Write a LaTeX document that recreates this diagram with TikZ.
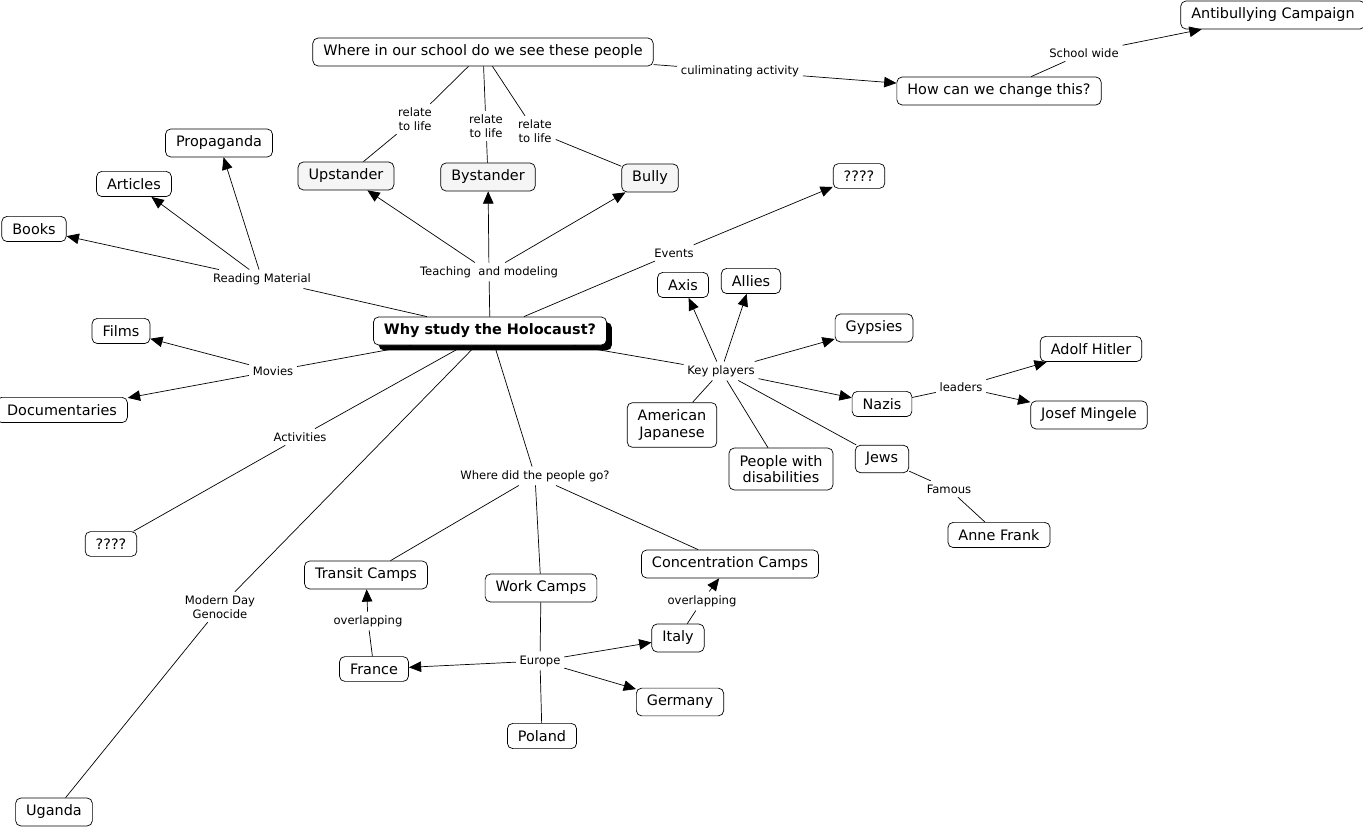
\documentclass[tikz,border=0pt]{standalone}
\usepackage{fontspec}
\setmainfont{DejaVu Sans}
\usetikzlibrary{arrows.meta,shadows}
\begin{document}
\begin{tikzpicture}[%
      x=0.02cm, y=-0.02cm,
      concept/.style={draw, rounded corners=3pt, font=\fontsize{8.2}{9.5}\selectfont, inner xsep=6pt, inner ysep=4pt, fill=white, align=center},
      person/.style={concept, fill=gray!8},
      link/.style={font=\fontsize{6.6}{7.8}\selectfont, inner sep=2pt, align=center},
      arr/.style={-{Triangle[length=7pt,width=6pt]}},
      ]
      \useasboundingbox (0,0) rectangle (1363,830);

      \node[concept, font=\bfseries\fontsize{8.2}{9.5}\selectfont, drop shadow={shadow xshift=3pt,shadow yshift=-3pt,fill=black,opacity=1}] (main) at (490,331) {Why study the Holocaust?};
      \node[concept] (where) at (483,52) {Where in our school do we see these people};
      \node[concept] (change) at (999,91) {How can we change this?};
      \node[concept] (anti) at (1273,15) {Antibullying Campaign};
      \node[person] (up) at (346,176) {Upstander};
      \node[person] (by) at (488,177) {Bystander};
      \node[person] (bully) at (650,178) {Bully};
      \node[concept] (prop) at (219,143) {Propaganda};
      \node[concept] (art) at (134,184) {Articles};
      \node[concept] (books) at (34,229) {Books};
      \node[concept] (qtop) at (859,176) {????};
      \node[concept] (axis) at (683,285) {Axis};
      \node[concept] (allies) at (751,281) {Allies};
      \node[concept] (gyp) at (874,328) {Gypsies};
      \node[concept] (hitler) at (1091,349) {Adolf Hitler};
      \node[concept] (nazis) at (882,404) {Nazis};
      \node[concept] (mingele) at (1089,415) {Josef Mingele};
      \node[concept] (films) at (121,331) {Films};
      \node[concept] (docs) at (62,410) {Documentaries};
      \node[concept] (amjap) at (672,425) {American\\Japanese};
      \node[concept] (dis) at (781,469) {People with\\ disabilities};
      \node[concept] (jews) at (882,459) {Jews};
      \node[concept] (anne) at (999,535) {Anne Frank};
      \node[concept] (qleft) at (111,544) {????};
      \node[concept] (transit) at (366,575) {Transit Camps};
      \node[concept] (work) at (541,588) {Work Camps};
      \node[concept] (conc) at (730,564) {Concentration Camps};
      \node[concept] (italy) at (678,638) {Italy};
      \node[concept] (france) at (374,669) {France};
      \node[concept] (germany) at (680,702) {Germany};
      \node[concept] (poland) at (542,736) {Poland};
      \node[concept] (uganda) at (54,812) {Uganda};

      \node[link] (rel1) at (415,119) {relate\\to life};
      \node[link] (rel2) at (486,126) {relate\\to life};
      \node[link] (rel3) at (535,131) {relate\\to life};
      \node[link] (culm) at (740,71) {culiminating activity};
      \node[link] (school) at (1084,53) {School wide};
      \node[link] (read) at (262,279) {Reading Material};
      \node[link] (teach) at (489,272) {Teaching\ \ and modeling};
      \node[link] (events) at (674,253) {Events};
      \node[link] (movies) at (273,371) {Movies};
      \node[link] (keyp) at (721,371) {Key players};
      \node[link] (leaders) at (961,387) {leaders};
      \node[link] (activ) at (300,437) {Activities};
      \node[link] (wgo) at (535,476) {Where did the people go?};
      \node[link] (famous) at (949,489) {Famous};
      \node[link] (geno) at (220,607) {Modern Day\\ Genocide};
      \node[link] (ovl1) at (368,621) {overlapping};
      \node[link] (ovl2) at (702,601) {overlapping};
      \node[link] (europe) at (540,661) {Europe};

      \draw (up) -- (rel1) -- (where);
      \draw (by) -- (rel2) -- (where);
      \draw (bully) -- (rel3) -- (where);
      \draw (where) -- (culm); \draw[arr] (culm) -- (change);
      \draw (change) -- (school); \draw[arr] (school) -- (anti);
      \draw (main) -- (read);
      \draw[arr] (read) -- (books); \draw[arr] (read) -- (art); \draw[arr] (read) -- (prop);
      \draw (main) -- (teach);
      \draw[arr] (teach) -- (up); \draw[arr] (teach) -- (by); \draw[arr] (teach) -- (bully);
      \draw (main) -- (events); \draw[arr] (events) -- (qtop);
      \draw (main) -- (movies);
      \draw[arr] (movies) -- (films); \draw[arr] (movies) -- (docs);
      \draw (main) -- (keyp);
      \draw[arr] (keyp) -- (axis); \draw[arr] (keyp) -- (allies);
      \draw[arr] (keyp) -- (gyp); \draw[arr] (keyp) -- (nazis);
      \draw (keyp) -- (amjap); \draw (keyp) -- (dis); \draw (keyp) -- (jews);
      \draw (nazis) -- (leaders);
      \draw[arr] (leaders) -- (hitler); \draw[arr] (leaders) -- (mingele);
      \draw (jews) -- (famous) -- (anne);
      \draw (main) -- (activ) -- (qleft);
      \draw (main) -- (wgo);
      \draw (wgo) -- (transit); \draw (wgo) -- (work); \draw (wgo) -- (conc);
      \draw (main) -- (geno) -- (uganda);
      \draw (france) -- (ovl1); \draw[arr] (ovl1) -- (transit);
      \draw (italy) -- (ovl2); \draw[arr] (ovl2) -- (conc);
      \draw (work) -- (europe);
      \draw[arr] (europe) -- (france); \draw[arr] (europe) -- (italy);
      \draw[arr] (europe) -- (germany);
      \draw (europe) -- (poland);
\end{tikzpicture}
\end{document}
